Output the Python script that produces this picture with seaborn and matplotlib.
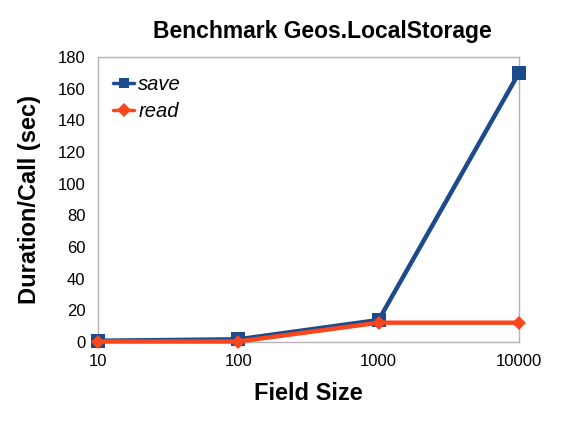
import pandas as pd
import seaborn as sns
from matplotlib import pyplot as plt

field_sizes = ['10', '100', '1000', '10000']
save_times = [0.8, 1.7, 13.9, 170]
read_times = [0.3, 0.3, 12.2, 12.2]

df = pd.DataFrame({
    'Field Size': field_sizes * 2,
    'duration': save_times + read_times,
    'series': ['save'] * 4 + ['read'] * 4,
})

sns.set_style('white')
plt.rcParams['font.family'] = ['Liberation Sans', 'DejaVu Sans']
plt.rcParams['text.color'] = 'black'
plt.rcParams['axes.labelcolor'] = 'black'

fig = plt.figure(figsize=(5.7, 4.28), dpi=100)
ax = fig.add_axes([98 / 570, 1 - 342 / 428, 421 / 570, 285 / 428])

palette = {'save': '#1c4a8a', 'read': '#f8461e'}
sns.lineplot(data=df, x='Field Size', y='duration', hue='series', style='series',
             markers={'save': 's', 'read': 'D'}, dashes=False, palette=palette,
             sort=False, linewidth=3.2, ax=ax, zorder=3, markeredgewidth=0)
for line, ms in zip(ax.lines, [10, 7.5]):
    line.set_markersize(ms)
    line.set_clip_on(False)

ax.set_xlim(0, 3)
ax.set_ylim(0, 180)
ax.set_yticks(range(0, 181, 20))
for s in ax.spines.values():
    s.set_color('#b3b3b3')
    s.set_linewidth(1)
ax.tick_params(axis='y', length=7, color='#b3b3b3', width=1, labelsize=12,
               pad=2, labelcolor='black')
ax.tick_params(axis='x', direction='in', length=4, color='#b3b3b3', width=1,
               labelsize=12, pad=9, labelcolor='black')

ax.set_xlabel('Field Size', fontsize=17, fontweight='bold', labelpad=9)
ax.set_ylabel('Duration/Call (sec)', fontsize=17, fontweight='bold', labelpad=12)
ax.set_title('Benchmark Geos.LocalStorage', fontsize=16.5, fontweight='bold',
             pad=14, x=0.533)

leg = ax.legend(loc='upper left', frameon=False, prop={'style': 'italic', 'size': 14.5},
                handlelength=1.05, handletextpad=0.2, labelspacing=0.4,
                borderpad=0, borderaxespad=0, bbox_to_anchor=(0.036, 0.937))
for h in leg.get_lines():
    h.set_linewidth(2.5)
    h.set_markersize(7)

fig.savefig('out.png', dpi=100)
